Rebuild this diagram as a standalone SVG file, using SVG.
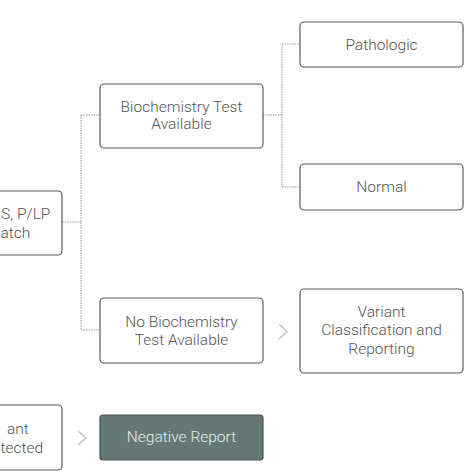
<svg xmlns="http://www.w3.org/2000/svg" width="474" height="474" viewBox="0 0 474 474">
<style>
.box{fill:#fff;stroke:#5a5a5a;stroke-width:1.2}
.dark{fill:#667876;stroke:#4a5352;stroke-width:1.2}
.t{font-family:Roboto,"Liberation Sans",sans-serif;font-size:15.5px;font-weight:300;fill:#555;text-anchor:middle}
.w{fill:#e6eceb}
.s{text-anchor:start}
.c{fill:none;stroke:#9a9a9a;stroke-width:1;stroke-dasharray:1.5,1}
.ch{fill:none;stroke:#bbb;stroke-width:1.2}
</style>
<rect width="474" height="474" fill="#fff"/>
<g id="connectors">
<path class="c" d="M62,222 H81 M81,115 V330 M81,115 H100 M81,330 H100"/>
<path class="c" d="M263,115 H282 M282,44 V187 M282,44 H300 M282,187 H300"/>
<polyline class="ch" points="279,324 287,331.5 279,339"/>
<polyline class="ch" points="78,431 86,438 78,445"/>
</g>
<g id="match">
<rect class="box" x="-101" y="191" width="163" height="64" rx="4"/>
<text class="t s" x="1" y="219">S, P/LP</text>
<text class="t s" x="0.5" y="238">atch</text>
</g>
<g id="biochem">
<rect class="box" x="100" y="84" width="163" height="64" rx="4"/>
<text class="t" x="181.5" y="112">Biochemistry Test</text>
<text class="t" x="181.5" y="129">Available</text>
</g>
<g id="pathologic">
<rect class="box" x="300" y="22" width="163" height="45" rx="4"/>
<text class="t" x="381.5" y="50">Pathologic</text>
</g>
<g id="normal">
<rect class="box" x="300" y="164" width="163" height="46" rx="4"/>
<text class="t" x="381.5" y="192">Normal</text>
</g>
<g id="nobiochem">
<rect class="box" x="100" y="298" width="163" height="65" rx="4"/>
<text class="t" x="181.5" y="327">No Biochemistry</text>
<text class="t" x="181.5" y="345">Test Available</text>
</g>
<g id="variant">
<rect class="box" x="300" y="289" width="163" height="84" rx="4"/>
<text class="t" x="381.5" y="317">Variant</text>
<text class="t" x="381.5" y="335">Classification and</text>
<text class="t" x="381.5" y="354">Reporting</text>
</g>
<g id="notdetected">
<rect class="box" x="-101" y="405" width="163" height="65" rx="4"/>
<text class="t s" x="7" y="434">ant</text>
<text class="t s" x="0.5" y="453">tected</text>
</g>
<g id="negative">
<rect class="dark" x="100" y="415" width="163" height="45" rx="3"/>
<text class="t w" x="181.5" y="442">Negative Report</text>
</g>
</svg>
